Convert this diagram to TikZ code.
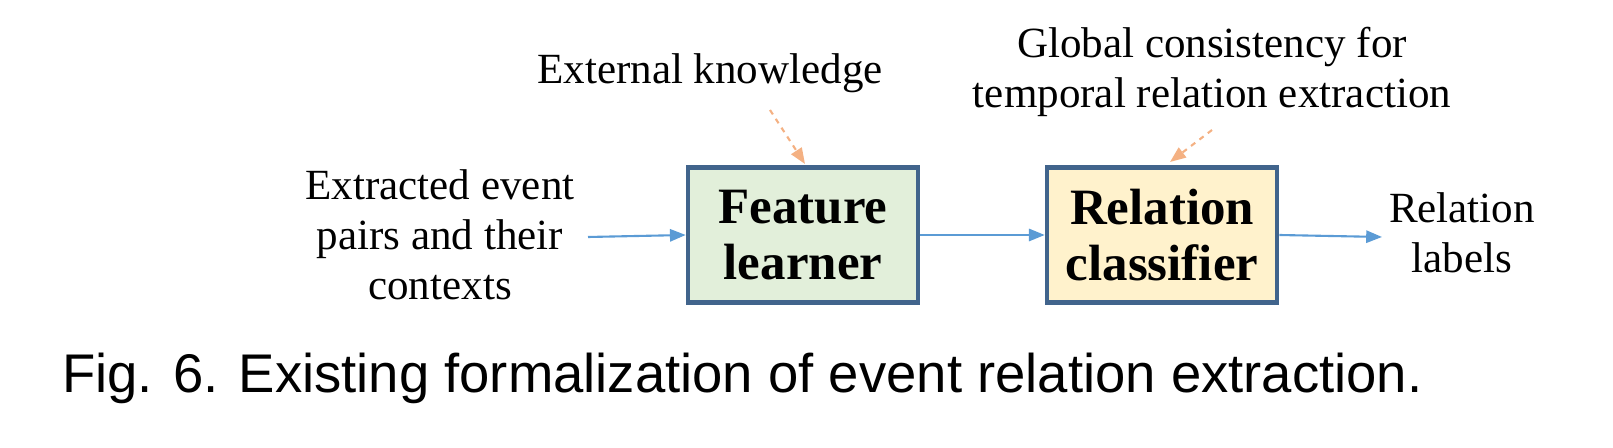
\documentclass[tikz,border=0pt]{standalone}
\usepackage{fontspec}
\setmainfont{Liberation Serif}
\newfontfamily\capfont{Liberation Sans}
\usetikzlibrary{arrows.meta}
\definecolor{bord}{HTML}{41648C}
\definecolor{arr}{HTML}{5B9BD5}
\definecolor{dsh}{HTML}{F4B183}
\tikzset{
 px/.style={x=0.02cm,y=-0.02cm},
 blk/.style={draw=bord,line width=2.6pt,minimum width=4.6cm,minimum height=2.7cm,align=center,font=\fontsize{29}{32}\selectfont\bfseries},
 lab/.style={align=center,font=\fontsize{24.5}{28.5}\selectfont},
 flow/.style={draw=arr,line width=1.2pt,-{Triangle[length=9pt,width=7pt]}},
 ext/.style={draw=dsh,line width=1.2pt,dashed,-{Triangle[length=9pt,width=7pt]}}
}
\begin{document}
\begin{tikzpicture}[px]
\useasboundingbox (0,0) rectangle (1613,448);
\node[blk,fill={rgb,255:red,226;green,239;blue,218}] (fl) at (803,235) {Feature\\learner};
\node[blk,fill={rgb,255:red,255;green,242;blue,204}] (rc) at (1162,235) {Relation\\classifier};
\node[lab] (in) at (440,235) {Extracted event\\pairs and their\\contexts};
\node[lab] (out) at (1462,233) {Relation\\labels};
\node[lab] (ek) at (710,73) {External knowledge};
\node[lab] (gc) at (1212,72) {Global consistency for\\temporal relation extraction};
\coordinate (ekend) at (770,110);
\coordinate (gcend) at (1212,130);
\draw[flow] (588,237) -- (fl.west);
\draw[flow] (fl.east) -- (rc.west);
\draw[flow] (rc.east) -- (1382,237);
\draw[ext] (ekend) -- (805,164);
\draw[ext] (gcend) -- (1170,162);
\node[anchor=west,font=\capfont\fontsize{31}{35}\selectfont] (cap) at (56,378) {Fig. 6. Existing formalization of event relation extraction.};
\end{tikzpicture}
\end{document}
